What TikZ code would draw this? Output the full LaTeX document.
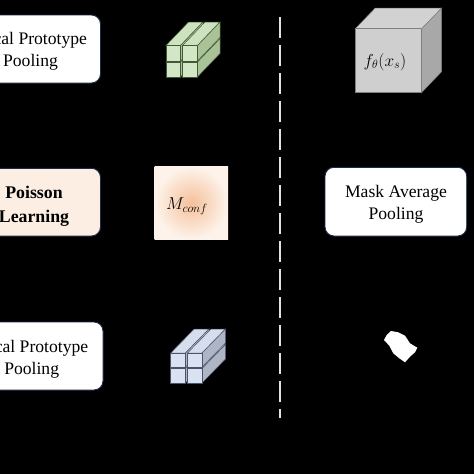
\documentclass[tikz,border=0pt]{standalone}
\usepackage{fontspec}
\setmainfont{Liberation Serif}
\definecolor{navy}{HTML}{1B2A4A}
\definecolor{peach}{HTML}{FDEEE3}
\definecolor{confin}{HTML}{F5C09A}
\definecolor{confout}{HTML}{FDF3EB}
\tikzset{
  panel/.style={draw=navy,line width=0.9pt,rounded corners=9pt,fill=white},
  lbl/.style={align=center,inner sep=0pt,font=\fontsize{17.6}{22}\selectfont,text=black},
  mathlbl/.style={inner sep=0pt,font=\fontsize{18.5}{22}\selectfont,text=black},
}
\newcommand{\cuboid}[8]{%
 \fill[#7top,draw=#8,line width=0.5pt] (#1,#2) -- ++(#5,-#6) -- ++(#3,0) -- ++(-#5,#6) -- cycle;
 \fill[#7side,draw=#8,line width=0.5pt] (#1+#3,#2) -- ++(#5,-#6) -- ++(0,#4) -- ++(-#5,#6) -- cycle;
 \fill[#7front,draw=#8,line width=0.5pt] (#1,#2) rectangle ++(#3,#4);
}
\definecolor{gtop}{HTML}{CFE2BF}\definecolor{gside}{HTML}{A9C297}\definecolor{gfront}{HTML}{D3E6C6}\definecolor{gedge}{HTML}{3F5A34}
\definecolor{btop}{HTML}{D6DEEE}\definecolor{bside}{HTML}{AEB6C6}\definecolor{bfront}{HTML}{DAE2F2}\definecolor{bedge}{HTML}{4A5468}
\definecolor{ktop}{HTML}{D2D2D2}\definecolor{kside}{HTML}{A8A8A8}\definecolor{kfront}{HTML}{CFCFCF}\definecolor{kedge}{HTML}{7F7F7F}
\begin{document}
\begin{tikzpicture}[x=1pt,y=-1pt]
\useasboundingbox (0,0) rectangle (474,474);
\clip (0,0) rectangle (474,474);
\fill[black] (0,0) rectangle (474,474);
% left boxes
\draw[panel] (-40,15) rectangle (100.5,83);
\node[lbl] (t1) at (30.5,51) {Local Prototype\\Pooling};
\draw[panel,fill=peach] (-40,168.3) rectangle (100.5,236);
\node[lbl,font=\fontsize{17.8}{24}\selectfont\bfseries] (t2) at (34,206) {Poisson\\Learning};
\draw[panel] (-40,322) rectangle (103,390);
\node[lbl] (t3) at (31.7,359.5) {Local Prototype\\Pooling};
% green blocks
\cuboid{166}{62}{14.5}{15}{22.5}{23.5}{g}{gedge}
\cuboid{166}{45.5}{14.5}{15.5}{22.5}{23.5}{g}{gedge}
\cuboid{182.5}{62}{15}{15}{22.5}{23.5}{g}{gedge}
\cuboid{182.5}{45.5}{15}{15.5}{22.5}{23.5}{g}{gedge}
% blue blocks
\cuboid{170.7}{368.5}{14.8}{14.5}{23.5}{24}{b}{bedge}
\cuboid{170.7}{353}{14.8}{14}{23.5}{24}{b}{bedge}
\cuboid{187.5}{368.5}{14.5}{14.5}{23.5}{24}{b}{bedge}
\cuboid{187.5}{353}{14.5}{14}{23.5}{24}{b}{bedge}
% conf map
\shade[inner color=confin,outer color=confout] (154.7,166.7) rectangle (228,239.3);
\node[mathlbl] (mc) at (187,206) {$M_{conf}$};
% divider
\coordinate (da) at (279.5,17);
\coordinate (db) at (279.5,418);
\draw[white!88!black,line width=2pt,dash pattern=on 21pt off 7pt] (da) -- (db);
% gray cube
\cuboid{355.3}{28.7}{66.4}{63.6}{20}{20.7}{k}{kedge}
\node[mathlbl] (fx) at (385,62) {$f_\theta(x_s)$};
% mask average pooling
\draw[panel] (325,167.3) rectangle (466.7,236);
\node[lbl] (t4) at (396,204.5) {Mask Average\\Pooling};
% mask
\fill[white] (391,331) -- (398.3,332.3) -- (405,335.7) -- (410,343.3) -- (417.3,347.7) -- (415,352.3) -- (410,356.7) -- (405,362.3) -- (399.3,358.3) -- (393.3,353.3) -- (389.3,345.7) -- (384,340) -- (386.7,335) -- cycle;
\end{tikzpicture}
\end{document}
